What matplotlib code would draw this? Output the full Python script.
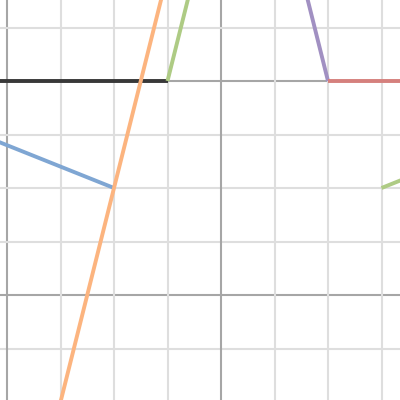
import matplotlib
import matplotlib.pyplot as plt
import numpy as np

matplotlib.use('Agg')

# segments in graph units (one minor grid step = 1 unit)
black_x = [-1, 3]
black_y = [4, 4]
green_x = [3, 4]
green_y = [4, 8]
green2_x = [7, 8]
green2_y = [2, 2.4]
orange_x = [0.5, 3]
orange_y = [-4, 6]
blue_x = [-1, 2]
blue_y = [3.2, 2]
purple_x = [5, 6]
purple_y = [8, 4]
red_x = [6, 8]
red_y = [4, 4]

X_MIN, X_MAX = -7 / 53.5, 393 / 53.5
Y_MIN, Y_MAX = -105 / 53.5, 295 / 53.5

fig = plt.figure(figsize=(4, 4), dpi=100)
ax = fig.add_axes([0, 0, 1, 1])
ax.set_xlim(X_MIN, X_MAX)
ax.set_ylim(Y_MIN, Y_MAX)

for v in np.arange(-1, 9):
    major = v % 4 == 0
    ax.axvline(v, color='#a6a6a6' if major else '#dedede', lw=1.5, zorder=0)
    ax.axhline(v, color='#a6a6a6' if major else '#dedede', lw=1.5, zorder=0)

lw = 2.8
ax.plot(blue_x, blue_y, color='#7fa6d3', lw=lw, solid_capstyle='butt')
ax.plot(black_x, black_y, color='#383838', lw=lw, solid_capstyle='butt')
ax.plot(green_x, green_y, color='#aecb84', lw=lw, solid_capstyle='butt')
ax.plot(green2_x, green2_y, color='#aecb84', lw=lw, solid_capstyle='butt')
ax.plot(purple_x, purple_y, color='#a190c2', lw=lw, solid_capstyle='butt')
ax.plot(red_x, red_y, color='#d5807d', lw=lw, solid_capstyle='butt')
ax.plot(orange_x, orange_y, color='#fcb47f', lw=lw, solid_capstyle='butt')

ax.axis('off')
fig.savefig('out.png', dpi=100)
